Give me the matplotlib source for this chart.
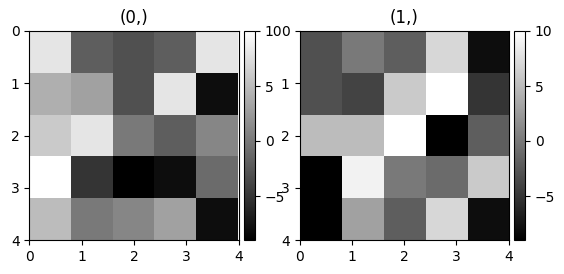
import numpy as np
import matplotlib
matplotlib.use("Agg")
import matplotlib.pyplot as plt

# Panel titles
titles = ["(0,)", "(1,)"]

# Cell values (rows top to bottom)
grid0 = [
    [8, -2, -3, -2, 8],
    [4, 3, -3, 8, -8],
    [6, 8, 0, -2, 1],
    [10, -5, -9, -8, -1],
    [5, 0, 1, 3, -8],
]
grid1 = [
    [-3, 0, -2, 7, -8],
    [-3, -4, 6, 10, -5],
    [5, 5, 10, -9, -2],
    [-9, 9, 0, -1, 6],
    [-9, 3, -2, 7, -8],
]
grids = [grid0, grid1]

W, H = 564, 274
fig = plt.figure(figsize=(W / 100, H / 100), dpi=100)

# Axes boxes in pixels: (left, top, width, height)
boxes = [(29, 31, 210, 209), (299, 31, 210, 209)]
cbar_boxes = [(244, 31, 11, 209), (514, 31, 11, 209)]

for grid, title, box, cbox in zip(grids, titles, boxes, cbar_boxes):
    l, t, w, h = box
    ax = fig.add_axes([l / W, (H - t - h) / H, w / W, h / H])
    im = ax.imshow(np.array(grid), cmap="gray", extent=[0, 4, 4, 0])
    ax.set_xticks(range(5))
    ax.set_yticks(range(5))
    ax.set_title(title)
    cl, ct, cw, ch = cbox
    cax = fig.add_axes([cl / W, (H - ct - ch) / H, cw / W, ch / H])
    fig.colorbar(im, cax=cax)

fig.savefig("out.png", dpi=100)
